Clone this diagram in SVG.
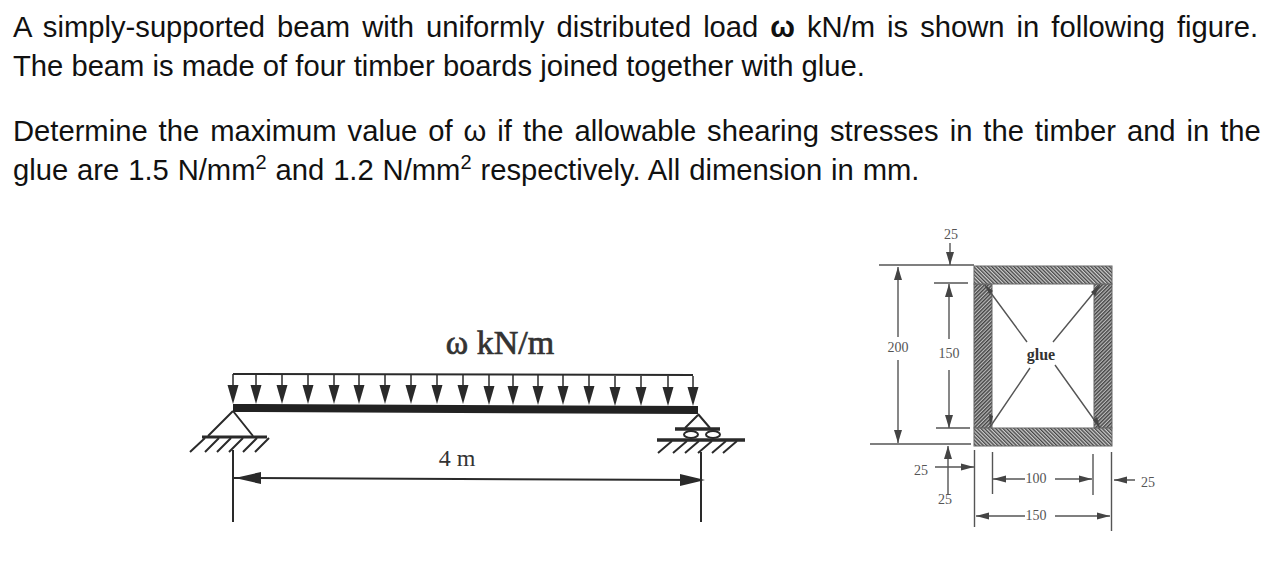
<svg xmlns="http://www.w3.org/2000/svg" xmlns:xlink="http://www.w3.org/1999/xlink" width="1266" height="568" viewBox="0 0 1266 568">
<style>
.t{font-family:"Liberation Sans",Arial,sans-serif;font-size:29.2px;fill:#111}
.s{font-family:"Liberation Serif","Times New Roman",serif;fill:#333}
.d{font-size:14px;text-anchor:middle;fill:#555}
.b{stroke:#2a2a2a;fill:none;stroke-width:2}
.g{stroke:#555;fill:none;stroke-width:1.4}
</style>
<defs>
<path id="load" d="M0 0V12" stroke="#2a2a2a" stroke-width="1.5" fill="none"/>
<polygon id="lh" points="-5.5,11 5.5,11 0,30" fill="#2a2a2a"/>
<polygon id="up" points="0,0 4,13 -4,13" fill="#444"/>
<polygon id="down" points="0,0 4,-13 -4,-13" fill="#444"/>
<polygon id="right" points="0,0 -13,-3.500 -13,3.500" fill="#444"/>
<polygon id="left" points="0,0 13,-3.500 13,3.500" fill="#444"/>
<pattern id="hb" width="2.6" height="2.6" patternUnits="userSpaceOnUse" patternTransform="rotate(-45)"><rect width="2.6" height="2.6" fill="#ccc"/><rect width="1.3" height="2.6" fill="#444"/></pattern>
<pattern id="hs" width="2.6" height="2.6" patternUnits="userSpaceOnUse" patternTransform="rotate(45)"><rect width="2.6" height="2.6" fill="#bbb"/><rect width="1.4" height="2.6" fill="#444"/></pattern>
</defs>
<rect width="1266" height="568" fill="#fff"/>
<g id="statement">
<text class="t" x="13" y="37" style="word-spacing:3.9px">A simply-supported beam with uniformly distributed load <tspan font-weight="bold">ω</tspan> kN/m is shown in following figure.</text>
<text class="t" x="13" y="76">The beam is made of four timber boards joined together with glue.</text>
<text class="t" x="13" y="141" style="word-spacing:2.85px">Determine the maximum value of ω if the allowable shearing stresses in the timber and in the</text>
<text class="t" x="13" y="180" style="word-spacing:0.8px">glue are 1.5 N/mm<tspan font-size="20" dy="-11">2</tspan><tspan dy="11"> and 1.2 N/mm</tspan><tspan font-size="20" dy="-11">2</tspan><tspan dy="11"> respectively. All dimension in mm.</tspan></text>
</g>
<g id="beam">
<text class="s" x="500" y="354" font-size="34" text-anchor="middle" stroke="#333" stroke-width="0.7">ω kN/m</text>
<path class="b" d="M233 374L693 375"/>
<polygon points="233,404 698,406 698,414 233,412" fill="#222"/>
<g id="load-arrows">
<g transform="translate(233 374)"><use xlink:href="#load"/><use xlink:href="#lh"/></g>
<g transform="translate(256 374)"><use xlink:href="#load"/><use xlink:href="#lh"/></g>
<g transform="translate(282 374)"><use xlink:href="#load"/><use xlink:href="#lh"/></g>
<g transform="translate(308 374)"><use xlink:href="#load"/><use xlink:href="#lh"/></g>
<g transform="translate(334 374)"><use xlink:href="#load"/><use xlink:href="#lh"/></g>
<g transform="translate(359 374)"><use xlink:href="#load"/><use xlink:href="#lh"/></g>
<g transform="translate(385 374)"><use xlink:href="#load"/><use xlink:href="#lh"/></g>
<g transform="translate(411 374)"><use xlink:href="#load"/><use xlink:href="#lh"/></g>
<g transform="translate(437 374)"><use xlink:href="#load"/><use xlink:href="#lh"/></g>
<g transform="translate(463 374)"><use xlink:href="#load"/><use xlink:href="#lh"/></g>
<g transform="translate(489 375)"><use xlink:href="#load"/><use xlink:href="#lh"/></g>
<g transform="translate(513 375)"><use xlink:href="#load"/><use xlink:href="#lh"/></g>
<g transform="translate(538 375)"><use xlink:href="#load"/><use xlink:href="#lh"/></g>
<g transform="translate(563 375)"><use xlink:href="#load"/><use xlink:href="#lh"/></g>
<g transform="translate(589 375)"><use xlink:href="#load"/><use xlink:href="#lh"/></g>
<g transform="translate(615 376)"><use xlink:href="#load"/><use xlink:href="#lh"/></g>
<g transform="translate(641 376)"><use xlink:href="#load"/><use xlink:href="#lh"/></g>
<g transform="translate(668 376)"><use xlink:href="#load"/><use xlink:href="#lh"/></g>
<g transform="translate(693 376)"><use xlink:href="#load"/><use xlink:href="#lh"/></g>
</g>
<g id="pin-support">
<path class="b" d="M233 411L208 436M233 411L253 436"/>
<path class="b" style="stroke-width:3" d="M202 437H267"/>
<path class="b" d="M190 452L205 438M205 452L219 438M217 452L231 438M229 452L243 438M243 452L257 438M255 452L269 438"/>
</g>
<g id="roller-support">
<path class="b" d="M698 415L685 428M698 414L710 428"/>
<path style="stroke-width:3.5" class="b" d="M675 429H720"/>
<ellipse class="b" cx="691" cy="434.500" rx="7" ry="3.500"/>
<ellipse class="b" cx="713" cy="434.500" rx="7" ry="3.500"/>
<path style="stroke-width:3.500" class="b" d="M657 440H745"/>
<path class="b" d="M658 453L672 441M673 453L687 441M685 453L699 441M698 453L712 441M712 453L726 441M723 453L737 441"/>
</g>
<g id="span-dimension">
<path class="b" d="M233 450V522M701 452V522M234 478L701 480"/>
<polygon points="235,478 261,472 261,484" fill="#2a2a2a"/>
<polygon points="705,480 680,474 680,486" fill="#2a2a2a"/>
<text class="s" x="457" y="466" font-size="24" text-anchor="middle">4 m</text>
</g>
</g>
<g id="section">
<rect x="974" y="284" width="18" height="144" fill="url(#hs)" stroke="#666"/>
<rect x="1094" y="284" width="18" height="144" fill="url(#hs)" stroke="#666"/>
<rect x="974" y="266" width="138" height="18" fill="url(#hb)" stroke="#666"/>
<rect x="974" y="428" width="138" height="18" fill="url(#hb)" stroke="#666"/>
<text class="s" x="1041" y="360" font-size="16" font-weight="bold" text-anchor="middle" fill="#444">glue</text>
<g id="glue-leaders">
<path class="g" d="M985 285L1027 342M1100 285L1053 342M990 427L1030 368M1100 428L1055 365"/>
<polygon points="985,285 993,291 989,294" fill="#444"/>
<polygon points="1100,285 1095,296 1091,292" fill="#444"/>
<polygon points="990,427 993,416 989,414" fill="#444"/>
<polygon points="1100,428 1097,417 1093,420" fill="#444"/>
</g>
</g>
<g id="dimensions">
<path class="g" d="M879 265H974M934 283H968M936 428H970M870 444H971M974.500 450V527M992.500 452V494M1093 454V495M1111.500 452V531"/>
<path class="g" d="M898 267V337M898 360V443M949 284V339M949 370V428M950 243V265M948 446V495M935 467H974M993 479H1025M1055 479H1092M976 516H1025M1055 516H1110M1114 480H1135"/>
<use xlink:href="#up" x="898" y="267"/>
<use xlink:href="#down" x="898" y="443"/>
<use xlink:href="#up" x="949" y="284"/>
<use xlink:href="#down" x="949" y="428"/>
<use xlink:href="#down" x="950" y="265"/>
<use xlink:href="#up" x="948" y="446"/>
<use xlink:href="#right" x="974" y="467"/>
<use xlink:href="#left" x="993" y="479"/>
<use xlink:href="#right" x="1092" y="479"/>
<use xlink:href="#left" x="976" y="516"/>
<use xlink:href="#right" x="1110" y="516"/>
<use xlink:href="#left" x="1114" y="480"/>
<text class="s d" x="951" y="239">25</text>
<text class="s d" x="898" y="352">200</text>
<text class="s d" x="949" y="358">150</text>
<text class="s d" x="921" y="475">25</text>
<text class="s d" x="945" y="504">25</text>
<text class="s d" x="1036" y="483">100</text>
<text class="s d" x="1036" y="520">150</text>
<text class="s d" x="1148" y="487">25</text>
</g>
</svg>
